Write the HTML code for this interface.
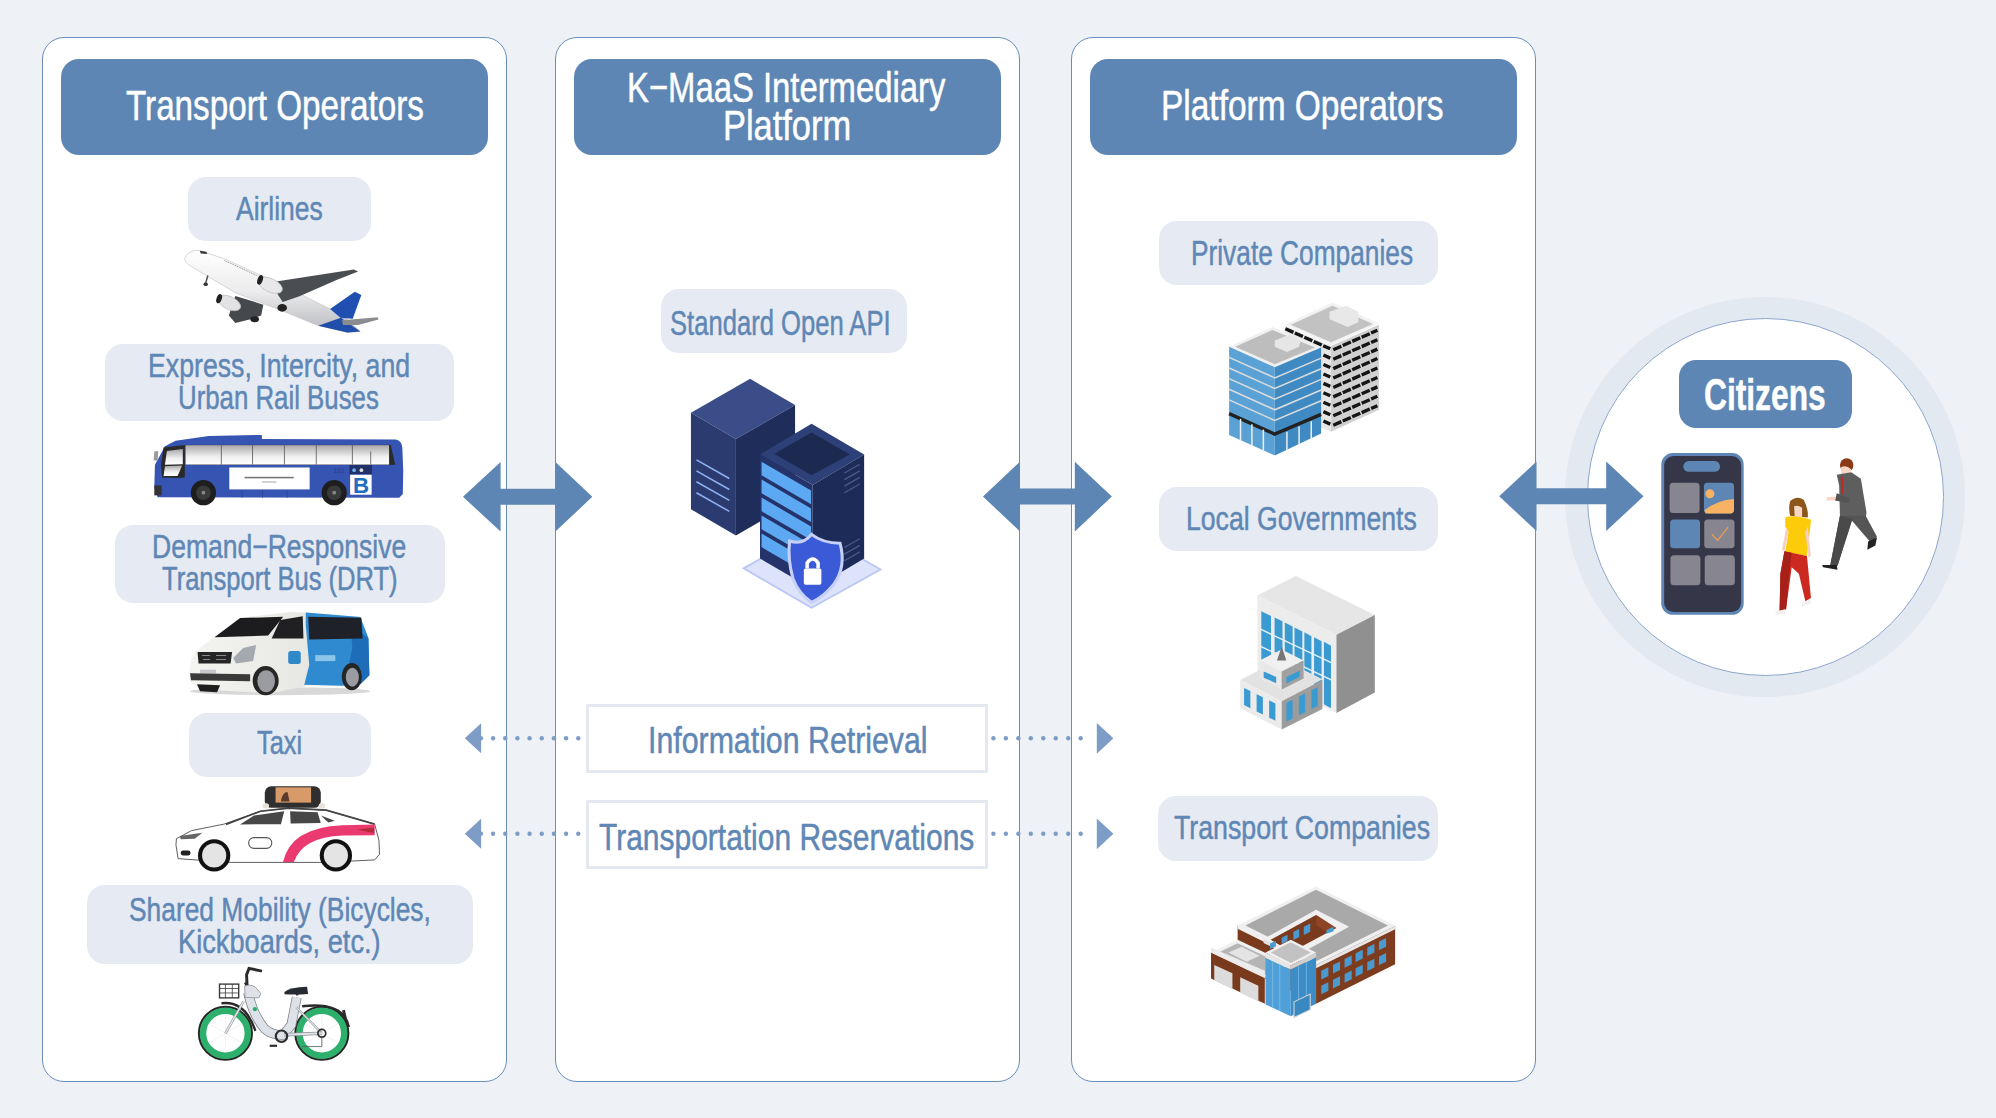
<!DOCTYPE html>
<html><head><meta charset="utf-8"><style>
html,body{margin:0;padding:0;}
body{width:1996px;height:1118px;background:#eef1f6;position:relative;overflow:hidden;font-family:"Liberation Sans",sans-serif;}
.t{position:absolute;white-space:nowrap;transform-origin:0 0;-webkit-text-stroke:0.5px currentColor;}
svg{position:absolute;left:0;top:0;}
</style></head><body>
<div style="position:absolute;left:42px;top:37px;width:465px;height:1045px;box-sizing:border-box;background:#fff;border:1px solid #6a8ebb;border-radius:22px"></div>
<div style="position:absolute;left:555px;top:37px;width:465px;height:1045px;box-sizing:border-box;background:#fff;border:1px solid #6a8ebb;border-radius:22px"></div>
<div style="position:absolute;left:1071px;top:37px;width:465px;height:1045px;box-sizing:border-box;background:#fff;border:1px solid #6a8ebb;border-radius:22px"></div>
<div style="position:absolute;left:61.3px;top:59.4px;width:427px;height:95.7px;background:#5d86b4;border-radius:18px"></div>
<div style="position:absolute;left:573.8px;top:59.4px;width:427px;height:95.7px;background:#5d86b4;border-radius:18px"></div>
<div style="position:absolute;left:1089.8px;top:59.4px;width:427px;height:95.7px;background:#5d86b4;border-radius:18px"></div>
<div style="position:absolute;left:188px;top:177px;width:183px;height:64px;background:#e6ebf3;border-radius:18px"></div>
<div style="position:absolute;left:105px;top:344px;width:349px;height:77px;background:#e6ebf3;border-radius:18px"></div>
<div style="position:absolute;left:115px;top:525px;width:330px;height:78px;background:#e6ebf3;border-radius:18px"></div>
<div style="position:absolute;left:189px;top:713px;width:182px;height:64px;background:#e6ebf3;border-radius:18px"></div>
<div style="position:absolute;left:87px;top:885px;width:386px;height:79px;background:#e6ebf3;border-radius:18px"></div>
<div style="position:absolute;left:661px;top:289px;width:246px;height:64px;background:#e6ebf3;border-radius:18px"></div>
<div style="position:absolute;left:1159px;top:221px;width:279px;height:64px;background:#e6ebf3;border-radius:18px"></div>
<div style="position:absolute;left:1159px;top:487px;width:279px;height:64px;background:#e6ebf3;border-radius:18px"></div>
<div style="position:absolute;left:1158px;top:796px;width:280px;height:65px;background:#e6ebf3;border-radius:18px"></div>
<div style="position:absolute;left:586px;top:704px;width:402px;height:69px;box-sizing:border-box;border:3px solid #e3e8f1;background:#fff"></div>
<div style="position:absolute;left:586px;top:800px;width:402px;height:69px;box-sizing:border-box;border:3px solid #e3e8f1;background:#fff"></div>
<div style="position:absolute;left:1564.7px;top:296.6px;width:400.6px;height:400.6px;border-radius:50%;background:#e3e9f1"></div>
<div style="position:absolute;left:1586.5px;top:318.3px;width:357.4px;height:357.4px;box-sizing:border-box;border-radius:50%;background:#fff;border:1px solid #8ea6cc"></div>
<div style="position:absolute;left:1679.4px;top:359.7px;width:172.4px;height:68.6px;background:#5d86b4;border-radius:17px"></div>
<svg width="1996" height="1118" viewBox="0 0 1996 1118">
<g transform="translate(175,240) scale(0.10771)">
<defs><linearGradient id="fus" x1="0" y1="0" x2="0" y2="1"><stop offset="0" stop-color="#ffffff"/><stop offset="0.5" stop-color="#ececee"/><stop offset="1" stop-color="#b8b9bd"/></linearGradient></defs>
<path d="M560,520 L820,600 L800,700 L720,730 L560,770 L500,700 Z" fill="#45484d"/>
<path d="M90,170 Q120,95 220,95 L460,175 L1000,420 L1560,700 L1720,850 L1600,858 L1330,795 L1000,660 L560,490 L150,245 Q90,210 90,170 Z" fill="url(#fus)" stroke="#c4c4c8" stroke-width="6"/>
<path d="M1330,795 L1540,722 L1720,850 L1600,858 Z" fill="#1f4fa8"/>
<path d="M940,385 L1660,275 L1700,292 L1500,372 L1150,525 L1000,575 L930,470 Z" fill="#4a4d52"/>
<path d="M1440,640 L1670,480 L1730,510 L1650,730 L1540,725 Z" fill="#1f4fb0"/>
<path d="M1550,745 L1880,718 L1890,738 L1700,790 L1560,790 Z" fill="#8a8c90"/>
<ellipse cx="885" cy="420" rx="120" ry="62" transform="rotate(25 885 420)" fill="#e8e8ea" stroke="#b8b8bc" stroke-width="6"/>
<ellipse cx="790" cy="370" rx="24" ry="46" transform="rotate(20 790 370)" fill="#222"/>
<ellipse cx="505" cy="585" rx="112" ry="60" transform="rotate(25 505 585)" fill="#e2e2e4" stroke="#b8b8bc" stroke-width="6"/>
<ellipse cx="410" cy="545" rx="24" ry="44" transform="rotate(20 410 545)" fill="#222"/>
<ellipse cx="995" cy="630" rx="45" ry="35" fill="#222"/>
<ellipse cx="740" cy="735" rx="40" ry="28" fill="#222"/>
<ellipse cx="285" cy="410" rx="20" ry="18" fill="#333"/>
<path d="M305,330 L285,400" stroke="#555" stroke-width="14"/>
<path d="M230,100 L290,110 L300,130 L240,125 Z" fill="#333"/>
<path d="M460,190 L760,330" stroke="#7a7a80" stroke-width="8" stroke-dasharray="10 8"/>
</g><g transform="translate(145,425) scale(0.13277)">
<defs><linearGradient id="bwin" x1="0" y1="0" x2="0" y2="1"><stop offset="0" stop-color="#a8a8aa"/><stop offset="0.6" stop-color="#f0f0f0"/><stop offset="1" stop-color="#ffffff"/></linearGradient></defs>
<path d="M95,545 L70,470 L75,300 L150,160 L230,118 L480,82 L880,75 L880,105 L1890,110 Q1935,120 1938,170 L1945,340 L1942,520 L1915,548 Z" fill="#3654b2"/>
<path d="M140,170 L300,150 L300,395 L240,400 L130,395 L120,300 Z" fill="#2a2a2a"/>
<path d="M165,195 L285,180 L285,295 L150,300 Z" fill="url(#bwin)"/>
<path d="M150,310 L280,305 L245,385 L140,385 Z" fill="url(#bwin)"/>
<path d="M70,200 L100,195 L95,270 L65,265 Z" fill="#9a9a9a"/>
<rect x="300" y="150" width="1550" height="150" fill="#2a2a2a"/>
<rect x="305" y="152" width="1535" height="146" fill="url(#bwin)"/>
<g stroke="#555" stroke-width="6"><path d="M575,152 V298"/><path d="M810,152 V298"/><path d="M1050,152 V298"/><path d="M1290,152 V298"/><path d="M1562,152 V298"/><path d="M1700,200 V298"/></g>
<path d="M1840,150 L1850,150 L1885,300 L1840,300 Z" fill="#2a2a2a"/>
<rect x="635" y="320" width="605" height="165" fill="#fff"/>
<rect x="750" y="390" width="370" height="12" fill="#777"/>
<rect x="880" y="425" width="110" height="8" fill="#aaa"/>
<text x="1420" y="362" font-family="Liberation Sans" font-size="50" fill="#2a3f8a">161</text>
<rect x="1540" y="302" width="170" height="68" fill="#22306a"/>
<circle cx="1575" cy="340" r="14" fill="#6ab0e8"/><circle cx="1630" cy="340" r="14" fill="#ddd"/>
<rect x="1545" y="375" width="162" height="150" fill="#fff"/>
<text x="1566" y="512" font-family="Liberation Sans" font-weight="bold" font-size="168" fill="#1f6fc0">B</text>
<rect x="70" y="455" width="55" height="75" fill="#333"/>
<g stroke="#2a3f8a" stroke-width="5"><path d="M730,490 V548"/><path d="M885,490 V548"/><path d="M1070,490 V548"/></g>
<circle cx="440" cy="510" r="95" fill="#1e1e1e"/><circle cx="440" cy="510" r="55" fill="#3a3a3a"/><circle cx="440" cy="510" r="14" fill="#888"/>
<circle cx="1425" cy="510" r="95" fill="#1e1e1e"/><circle cx="1425" cy="510" r="55" fill="#3a3a3a"/><circle cx="1425" cy="510" r="14" fill="#888"/>
</g><g transform="translate(180,605) scale(0.10020)">
<defs><linearGradient id="vwh" x1="0" y1="0" x2="1" y2="0"><stop offset="0" stop-color="#f4f4f0"/><stop offset="1" stop-color="#e0e1dd"/></linearGradient></defs>
<ellipse cx="1000" cy="860" rx="900" ry="40" fill="#d8d8d8"/>
<path d="M90,700 L110,540 L170,450 L340,320 L600,130 L1100,70 L1260,75 L1800,120 L1880,330 L1890,700 L1800,790 L1620,805 L1300,800 L960,870 L700,870 L200,840 L100,770 Z" fill="url(#vwh)"/>
<path d="M1255,75 L1800,120 L1880,330 L1890,700 L1800,790 L1620,805 L1240,795 L1290,600 L1255,200 Z" fill="#2f8ad0"/>
<path d="M1700,200 L1880,330 L1890,700 L1800,790 L1650,780 L1720,420 Z" fill="#1d6db8"/>
<path d="M345,322 L600,130 L1030,118 L880,305 Z" fill="#1c1c1e"/>
<path d="M915,335 L1000,150 L1225,112 L1232,335 Z" fill="#202022"/>
<path d="M1280,118 L1810,128 L1822,335 L1290,345 Z" fill="#1e2228"/>
<path d="M175,470 L520,470 L505,585 L185,585 Z" fill="#262626"/>
<path d="M220,505 L300,505 M230,545 L300,545 M360,505 L460,505 M360,545 L460,545" stroke="#888" stroke-width="10"/>
<path d="M530,530 L630,430 L760,400 L730,560 L560,585 Z" fill="#a4a9b0"/>
<rect x="200" y="645" width="160" height="40" fill="#c8c8cc"/>
<path d="M100,680 L700,690 L700,760 L110,750 Z" fill="#3a3a3a"/>
<rect x="1080" y="460" width="125" height="130" rx="25" fill="#2f88c8"/>
<path d="M1350,500 L1550,500 L1550,560 L1350,560 Z" fill="#8cc4ea"/>
<ellipse cx="855" cy="755" rx="130" ry="145" fill="#262626"/><ellipse cx="860" cy="760" rx="88" ry="110" fill="#9a9ca2"/>
<ellipse cx="1715" cy="715" rx="100" ry="135" fill="#262626"/><ellipse cx="1720" cy="720" rx="65" ry="95" fill="#9a9ca2"/>
<path d="M170,790 L400,800 L370,870 L200,860 Z" fill="#1e1e1e"/>
</g><g transform="translate(170,780) scale(0.10771)">
<path d="M60,545 L200,470 L500,410 L840,290 L1100,262 L1450,280 L1900,410 L1940,560 L1945,690 L1900,742 L1700,752 L1390,765 L560,765 L280,745 L75,730 L55,600 Z" fill="#fff" stroke="#5a5a5a" stroke-width="9"/>
<path d="M520,412 L840,290 L1100,262 L1450,280 L1900,410" fill="none" stroke="#444" stroke-width="16"/>
<path d="M650,412 L780,330 L1060,290 L1030,410 Z" fill="#474747"/>
<path d="M1115,290 L1370,300 L1400,400 L1120,405 Z" fill="#474747"/>
<path d="M1400,330 L1530,378 L1470,395 Z" fill="#474747"/>
<path d="M1050,762 Q1120,440 1600,420 L1900,412 L1900,512 L1600,515 Q1230,530 1150,762 Z" fill="#ea3a70"/>
<path d="M1740,460 L1895,440 L1895,495 Z" fill="#b52a3a"/>
<rect x="880" y="58" width="520" height="200" rx="60" fill="#2f2f2f"/>
<rect x="980" y="68" width="330" height="142" fill="#d79a68"/>
<path d="M1030,200 Q1040,120 1090,110 L1110,200 Z" fill="#5a3a2a"/>
<rect x="860" y="215" width="60" height="50" rx="25" fill="#e8e2d8"/>
<rect x="1380" y="215" width="60" height="50" rx="25" fill="#e8e2d8"/>
<path d="M90,520 L300,490 L230,545 L100,550 Z" fill="#666"/>
<rect x="730" y="535" width="215" height="100" rx="50" fill="none" stroke="#555" stroke-width="10"/>
<circle cx="410" cy="700" r="150" fill="#111"/><circle cx="410" cy="700" r="112" fill="#e4e4e4"/>
<circle cx="1540" cy="700" r="150" fill="#111"/><circle cx="1540" cy="700" r="112" fill="#e4e4e4"/>
<rect x="100" y="655" width="90" height="45" rx="20" fill="#222"/>
</g><g transform="translate(190,960) scale(0.09838)">
<g fill="none">
<circle cx="360" cy="745" r="268" stroke="#262626" stroke-width="24"/>
<circle cx="360" cy="745" r="228" stroke="#2db06c" stroke-width="66"/>
<circle cx="1340" cy="745" r="268" stroke="#262626" stroke-width="24"/>
<circle cx="1340" cy="745" r="228" stroke="#2db06c" stroke-width="66"/>
<g stroke="#c8c8c8" stroke-width="2.5"><path d="M360,745 L360,550 M360,745 L520,650 M360,745 L520,840 M360,745 L360,940 M360,745 L200,840 M360,745 L200,650"/><path d="M1340,745 L1340,550 M1340,745 L1500,650 M1340,745 L1500,840 M1340,745 L1340,940 M1340,745 L1180,840 M1340,745 L1180,650"/></g>
<path d="M320,440 Q560,410 665,720" stroke="#2a2a2a" stroke-width="24"/>
<path d="M1140,470 Q1560,420 1615,680" stroke="#2a2a2a" stroke-width="24"/>
<path d="M1560,510 L1580,600" stroke="#2a2a2a" stroke-width="30"/>
<path d="M545,420 L360,745" stroke="#8c9096" stroke-width="26"/>
<path d="M545,420 L360,745" stroke="#dfe2e8" stroke-width="16"/>
<path d="M590,330 Q640,560 760,700 Q840,770 950,760 L1030,660 L1085,380" stroke="#7e838a" stroke-width="100" stroke-linejoin="round"/>
<path d="M590,330 Q640,560 760,700 Q840,770 950,760 L1030,660 L1085,380" stroke="#dde1e8" stroke-width="84" stroke-linejoin="round"/>
<path d="M1080,480 L1340,745" stroke="#8c9096" stroke-width="22"/><path d="M1080,480 L1340,745" stroke="#dfe2e8" stroke-width="12"/>
<path d="M960,760 L1340,745" stroke="#8c9096" stroke-width="34"/><path d="M960,760 L1340,745" stroke="#dfe2e8" stroke-width="22"/>
<path d="M1090,360 L1085,300" stroke="#2a2a2a" stroke-width="26"/>
<path d="M580,260 L575,150 L600,85 L720,110" stroke="#2a2a2a" stroke-width="30" stroke-linecap="round"/>
<path d="M560,230 L600,300" stroke="#2a2a2a" stroke-width="24"/>
<rect x="300" y="245" width="195" height="140" stroke="#3a3a3a" stroke-width="14"/>
<path d="M300,290 L495,290 M300,335 L495,335 M360,245 L360,385 M430,245 L430,385" stroke="#3a3a3a" stroke-width="8"/>
<circle cx="930" cy="775" r="58" stroke="#2e2e2e" stroke-width="22"/>
<circle cx="1340" cy="745" r="40" stroke="#2e2e2e" stroke-width="18"/>
<path d="M810,872 L885,872" stroke="#2e2e2e" stroke-width="22"/>
<path d="M1340,780 L1340,880 L1140,880" stroke="#555" stroke-width="8"/>
</g>
<path d="M960,325 Q1020,275 1190,272 L1200,345 Q1080,355 960,348 Z" fill="#262b33"/>
<path d="M555,265 Q600,240 660,270 L720,340 L700,385 L560,380 Z" fill="#dfe2e8" stroke="#8c9096" stroke-width="8"/>
<circle cx="660" cy="500" r="22" fill="#2db06c"/>
</g><g transform="translate(680,370) scale(0.21920)">
<path d="M290,905 L600,730 L915,910 L600,1085 Z" fill="#dde3fb" stroke="#b9c6f5" stroke-width="8"/>
<path d="M50,195 L320,40 L525,160 L255,315 Z" fill="#3b4d88"/>
<path d="M50,195 L255,315 L255,755 L50,635 Z" fill="#2b3b70"/>
<path d="M255,315 L525,160 L525,600 L255,755 Z" fill="#1f2d5a"/>
<g stroke="#8fb0f0" stroke-width="7" fill="none">
<path d="M75,410 L225,495"/><path d="M75,460 L225,545"/><path d="M75,510 L225,595"/><path d="M75,560 L225,645"/>
</g>
<path d="M365,385 L600,245 L840,385 L605,525 Z" fill="#2e4078"/>
<path d="M430,382 L600,285 L775,385 L600,480 Z" fill="#1c2950"/>
<path d="M365,385 L605,525 L605,1000 L365,860 Z" fill="#24336a"/>
<path d="M605,525 L840,385 L840,860 L605,1000 Z" fill="#1d2b58"/>
<g fill="#5da8f2">
<path d="M372,418 L598,550 L598,612 L372,480 Z"/>
<path d="M372,500 L598,632 L598,694 L372,562 Z"/>
<path d="M372,582 L598,714 L598,776 L372,644 Z"/>
<path d="M372,664 L598,796 L598,858 L372,726 Z"/>
<path d="M372,746 L598,878 L598,940 L372,808 Z"/>
</g>
<g stroke="#4a5a8a" stroke-width="6" fill="none"><path d="M750,470 L820,430"/><path d="M750,500 L820,460"/><path d="M750,530 L820,490"/><path d="M750,560 L820,520"/><path d="M750,810 L820,770"/><path d="M750,840 L820,800"/><path d="M750,870 L820,830"/></g>
<path d="M500,780 Q560,800 600,750 Q650,790 730,790 Q760,900 700,980 Q650,1040 600,1060 Q540,1020 515,950 Q490,860 500,780 Z" fill="#3a5ad8" stroke="#c6d0f8" stroke-width="14"/>
<rect x="565" y="905" width="80" height="75" rx="8" fill="#fff"/>
<path d="M580,905 L580,880 Q605,845 630,880 L630,905" fill="none" stroke="#fff" stroke-width="16"/>
</g><g transform="translate(1220,295) scale(0.15207)">
<path d="M425,195 L740,50 L1045,185 L730,330 Z" fill="#f2f2f2"/>
<path d="M465,195 L740,70 L1005,190 L730,310 Z" fill="#c2c2c2"/>
<path d="M720,110 L830,70 L910,110 L910,180 L840,210 L720,160 Z" fill="#e8e8e8"/>
<path d="M425,200 L730,335 L730,900 L425,765 Z" fill="#e6e6e6"/>
<path d="M730,335 L1045,195 L1045,755 L730,900 Z" fill="#d0d0d0"/>
<g stroke="#151515" stroke-width="22" fill="none" stroke-dasharray="58 10">
<path d="M745,360 L1035,232"/><path d="M745,422 L1035,294"/><path d="M745,484 L1035,356"/><path d="M745,546 L1035,418"/><path d="M745,608 L1035,480"/><path d="M745,670 L1035,542"/><path d="M745,732 L1035,604"/><path d="M745,794 L1035,666"/><path d="M745,856 L1035,728"/>
<path d="M430,222 L725,354"/><path d="M680,395 L725,415"/><path d="M680,457 L725,477"/><path d="M680,519 L725,539"/><path d="M680,581 L725,601"/><path d="M680,643 L725,663"/><path d="M680,705 L725,725"/><path d="M680,767 L725,787"/><path d="M680,829 L725,849"/>
</g>
<path d="M60,340 L345,210 L665,345 L360,475 Z" fill="#f0f0f0"/>
<path d="M100,340 L345,230 L625,345 L360,455 Z" fill="#bdbdbd"/>
<path d="M360,300 L460,260 L530,300 L520,340 L440,375 L360,340 Z" fill="#e6e6e6"/>
<path d="M60,340 L360,475 L360,1055 L60,920 Z" fill="#5aa2d6"/>
<path d="M360,475 L665,345 L665,910 L360,1055 Z" fill="#3f8ac2"/>
<g stroke="#dcdcdc" stroke-width="10" fill="none">
<path d="M60,410 L360,545 L665,415"/><path d="M60,480 L360,615 L665,485"/><path d="M60,550 L360,685 L665,555"/><path d="M60,620 L360,755 L665,625"/><path d="M60,690 L360,825 L665,695"/>
</g>
<path d="M60,780 L360,915 L665,785" fill="none" stroke="#222" stroke-width="22"/>
<g stroke="#eee" stroke-width="10" fill="none"><path d="M135,815 L135,960"/><path d="M210,850 L210,995"/><path d="M285,885 L285,1030"/><path d="M440,900 L440,1020"/><path d="M520,865 L520,985"/><path d="M600,830 L600,950"/></g>
</g><g transform="translate(1230,565) scale(0.15656)">
<path d="M175,195 L420,70 L925,320 L680,445 Z" fill="#e6e6e6"/>
<path d="M175,195 L680,445 L680,945 L175,700 Z" fill="#ececec"/>
<path d="M680,445 L925,320 L925,815 L680,945 Z" fill="#909090"/>
<g fill="#3a9ad2">
<path d="M200,295 L262,325 L262,640 L200,610 Z"/><path d="M285,335 L335,360 L335,675 L285,650 Z"/><path d="M350,368 L400,393 L400,708 L350,683 Z"/><path d="M412,400 L462,425 L462,740 L412,715 Z"/><path d="M475,430 L520,455 L520,770 L475,745 Z"/><path d="M537,462 L585,487 L585,802 L537,777 Z"/><path d="M600,490 L645,515 L645,915 L600,890 Z"/>
</g>
<g stroke="#e8f0f6" stroke-width="9" fill="none"><path d="M195,410 L650,625"/><path d="M195,520 L650,735"/></g>
<path d="M65,735 L330,600 L590,730 L330,870 Z" fill="#e2e2e2"/>
<path d="M65,735 L330,870 L330,1050 L65,915 Z" fill="#ebebeb"/>
<path d="M330,870 L590,735 L590,920 L330,1050 Z" fill="#9c9c9c"/>
<path d="M190,610 L330,540 L470,610 L330,680 Z" fill="#f0f0f0"/>
<path d="M190,610 L330,680 L330,795 L190,725 Z" fill="#e8e8e8"/>
<path d="M330,680 L470,610 L470,725 L330,795 Z" fill="#a0a0a0"/>
<path d="M300,610 L330,520 L360,610 Z" fill="#777"/>
<g fill="#3a9ad2">
<path d="M215,680 L295,715 L295,755 L215,720 Z"/><path d="M360,715 L445,675 L445,715 L360,755 Z"/>
<path d="M90,785 L130,805 L130,915 L90,895 Z"/><path d="M170,825 L210,845 L210,955 L170,935 Z"/><path d="M250,865 L290,885 L290,995 L250,975 Z"/>
<path d="M360,880 L400,860 L400,980 L360,1000 Z"/><path d="M440,840 L480,820 L480,940 L440,960 Z"/><path d="M520,800 L560,780 L560,900 L520,920 Z"/>
</g>
</g><g transform="translate(1200,880) scale(0.12967)">
<path d="M290,350 L895,50 L1505,350 L900,655 Z" fill="#f0f0f0"/>
<path d="M350,350 L895,75 L1450,350 L900,625 Z" fill="#a9a9a9"/>
<path d="M290,350 L895,655 L895,955 L290,650 Z" fill="#7a3a1e"/>
<path d="M290,345 L900,650 L900,680 L290,375 Z" fill="#f0f0f0"/>
<path d="M490,455 L895,230 L1150,360 L750,580 Z" fill="#f0f0f0"/>
<path d="M545,460 L895,270 L1050,370 L705,555 Z" fill="#7a3a1e"/>
<path d="M895,270 L1050,370 L980,405 L895,345 Z" fill="#8e4526"/>
<path d="M490,455 L750,580 L750,610 L490,485 Z" fill="#e0e0e0"/>
<path d="M895,655 L1505,355 L1505,650 L895,955 Z" fill="#7e3c1f"/>
<path d="M1505,355 L1505,380 L895,680 L895,655 Z" fill="#e8e8e8"/>
<g fill="#4a9ad0">
<path d="M935,700 L990,673 L990,740 L935,767 Z"/><path d="M1025,655 L1080,628 L1080,695 L1025,722 Z"/><path d="M1115,610 L1170,583 L1170,650 L1115,677 Z"/><path d="M1200,565 L1255,538 L1255,605 L1200,632 Z"/><path d="M1290,520 L1345,493 L1345,560 L1290,587 Z"/><path d="M1380,475 L1435,448 L1435,515 L1380,542 Z"/>
<path d="M935,815 L990,788 L990,855 L935,882 Z"/><path d="M1025,770 L1080,743 L1080,810 L1025,837 Z"/><path d="M1115,725 L1170,698 L1170,765 L1115,792 Z"/><path d="M1200,680 L1255,653 L1255,720 L1200,747 Z"/><path d="M1290,635 L1345,608 L1345,675 L1290,702 Z"/><path d="M1380,590 L1435,563 L1435,630 L1380,657 Z"/>
<path d="M800,360 L850,335 L850,400 L800,425 Z"/><path d="M720,400 L765,378 L765,440 L720,462 Z"/><path d="M630,445 L675,423 L675,470 L630,492 Z"/><path d="M540,490 L585,468 L585,510 L540,532 Z"/>
<path d="M975,385 L1030,360 L1030,395 L975,415 Z"/>
</g>
<path d="M85,560 L290,460 L700,655 L500,755 Z" fill="#f0f0f0"/>
<path d="M140,562 L290,488 L650,657 L500,728 Z" fill="#b5b5b5"/>
<path d="M220,560 L320,515 L460,585 L360,630 Z" fill="#e4e4e4"/>
<path d="M85,560 L500,755 L500,955 L85,760 Z" fill="#7a3a1e"/>
<path d="M85,560 L500,755 L500,700 L85,520 Z" fill="#ececec"/>
<path d="M110,655 L250,720 L250,840 L110,775 Z" fill="#dcdcdc"/><path d="M310,750 L450,815 L450,935 L310,870 Z" fill="#dcdcdc"/>
<path d="M505,560 L700,460 L895,560 L700,660 Z" fill="#f0f0f0"/>
<path d="M545,560 L700,480 L855,560 L700,640 Z" fill="#c2c2c2"/>
<path d="M505,600 L700,690 L700,1050 L505,960 Z" fill="#4fa0d8"/>
<path d="M700,690 L895,595 L895,955 L700,1050 Z" fill="#3c8cc7"/>
<path d="M505,560 L700,660 L700,690 L505,600 Z" fill="#e6e6e6"/><path d="M700,660 L895,560 L895,595 L700,690 Z" fill="#cfcfcf"/>
<g stroke="#8cc6ec" stroke-width="5" fill="none"><path d="M560,630 V985"/><path d="M615,655 V1010"/><path d="M760,665 V1020"/><path d="M820,635 V990"/></g>
<path d="M725,940 L850,880 L850,1000 L725,1060 Z" fill="#3a88c0" stroke="#d8d8d8" stroke-width="8"/>
</g><g transform="translate(1650,445) scale(0.16097)">
<rect x="70" y="50" width="512" height="1005" rx="72" fill="#5d86b4"/>
<rect x="88" y="68" width="478" height="970" rx="58" fill="#363649"/>
<rect x="207" y="100" width="228" height="66" rx="33" fill="#5d86b4"/>
<rect x="122" y="235" width="186" height="187" rx="22" fill="#878690"/>
<rect x="335" y="235" width="187" height="190" rx="22" fill="#5d86b4"/>
<circle cx="372" cy="303" r="28" fill="#f8b263"/>
<path d="M338,405 Q420,340 522,335 L522,400 Q522,425 500,425 L345,425 Z" fill="#f8b263"/>
<rect x="125" y="463" width="186" height="179" rx="22" fill="#5d86b4"/>
<rect x="337" y="463" width="188" height="179" rx="22" fill="#878690"/>
<path d="M385,555 L420,592 L485,510" fill="none" stroke="#f0a050" stroke-width="7"/>
<rect x="127" y="685" width="186" height="187" rx="22" fill="#878690"/>
<rect x="340" y="685" width="187" height="187" rx="22" fill="#878690"/>
<!-- woman -->
<path d="M870,350 Q910,310 955,340 Q985,400 980,450 L870,440 Q860,390 870,350 Z" fill="#8b5618"/>
<path d="M895,380 Q920,370 945,390 L945,450 L900,455 Z" fill="#f6d6c4"/>
<path d="M840,450 Q900,430 1000,465 L995,520 L975,690 L840,665 L860,540 L840,505 Z" fill="#fccb0a"/>
<path d="M980,505 L1000,690 L985,700 L965,540 Z" fill="#f6d0c0"/>
<path d="M845,520 L820,650 L835,660 L860,540 Z" fill="#f6d0c0"/>
<path d="M835,660 L975,690 L1000,950 L965,970 L925,800 L880,760 L845,1020 L805,1030 L810,800 Z" fill="#cc2a20"/>
<path d="M835,660 L880,670 L870,760 L845,1020 L805,1030 L810,800 Z" fill="#a8201a"/>
<path d="M780,1035 L840,1020 L840,1050 L780,1055 Z" fill="#f0f0f0"/>
<path d="M940,985 L1000,955 L995,990 L945,1000 Z" fill="#f0f0f0"/>
<!-- man -->
<circle cx="1222" cy="125" r="42" fill="#8a3a14"/>
<path d="M1185,140 Q1215,120 1250,150 L1240,190 L1190,195 Z" fill="#f6d6c4"/>
<path d="M1160,185 L1250,170 L1310,210 L1345,420 L1340,450 L1250,460 L1180,440 L1175,250 Z" fill="#5e5e5e"/>
<path d="M1185,200 L1200,200 L1200,310 L1188,300 Z" fill="#c0282a"/>
<path d="M1150,320 L1100,325 L1095,345 L1155,345 Z" fill="#f6d6c4"/>
<path d="M1160,300 L1240,330 L1230,360 L1150,345 Z" fill="#555"/>
<path d="M1180,440 L1340,440 L1410,570 L1375,610 L1255,470 L1165,750 L1120,745 Z" fill="#555"/>
<path d="M1180,440 L1255,460 L1165,750 L1120,745 Z" fill="#4a4a4a"/>
<path d="M1070,745 L1160,745 L1165,775 L1075,760 Z" fill="#222"/>
<path d="M1355,600 L1410,575 L1400,625 L1350,650 Z" fill="#222"/>
</g>
<polygon points="463,496.8 500.6,462.0 500.6,488.8 555.4,488.8 555.4,462.0 592.3,496.8 555.4,531.6 555.4,504.8 500.6,504.8 500.6,531.6" fill="#5d86b4"/>
<polygon points="983,496.6 1019.9,461.8 1019.9,488.6 1074.8,488.6 1074.8,461.8 1111.9,496.6 1074.8,531.4 1074.8,504.6 1019.9,504.6 1019.9,531.4" fill="#5d86b4"/>
<polygon points="1499.2,496.3 1536.5,461.5 1536.5,488.3 1606.2,488.3 1606.2,461.5 1643.5,496.3 1606.2,531.1 1606.2,504.3 1536.5,504.3 1536.5,531.1" fill="#5d86b4"/>
<circle cx="480.90" cy="738.3" r="2.2" fill="#7d9cc6"/>
<circle cx="493.07" cy="738.3" r="2.2" fill="#7d9cc6"/>
<circle cx="505.24" cy="738.3" r="2.2" fill="#7d9cc6"/>
<circle cx="517.41" cy="738.3" r="2.2" fill="#7d9cc6"/>
<circle cx="529.58" cy="738.3" r="2.2" fill="#7d9cc6"/>
<circle cx="541.75" cy="738.3" r="2.2" fill="#7d9cc6"/>
<circle cx="553.92" cy="738.3" r="2.2" fill="#7d9cc6"/>
<circle cx="566.09" cy="738.3" r="2.2" fill="#7d9cc6"/>
<circle cx="578.26" cy="738.3" r="2.2" fill="#7d9cc6"/>
<circle cx="993.40" cy="738.3" r="2.2" fill="#7d9cc6"/>
<circle cx="1005.87" cy="738.3" r="2.2" fill="#7d9cc6"/>
<circle cx="1018.34" cy="738.3" r="2.2" fill="#7d9cc6"/>
<circle cx="1030.81" cy="738.3" r="2.2" fill="#7d9cc6"/>
<circle cx="1043.28" cy="738.3" r="2.2" fill="#7d9cc6"/>
<circle cx="1055.75" cy="738.3" r="2.2" fill="#7d9cc6"/>
<circle cx="1068.22" cy="738.3" r="2.2" fill="#7d9cc6"/>
<circle cx="1080.69" cy="738.3" r="2.2" fill="#7d9cc6"/>
<polygon points="464.8,738.3 481.1,723.3 481.1,753.3" fill="#7d9cc6"/>
<polygon points="1113.4,738.3 1096.8,722.9 1096.8,753.6999999999999" fill="#7d9cc6"/>
<circle cx="480.90" cy="833.8" r="2.2" fill="#7d9cc6"/>
<circle cx="493.07" cy="833.8" r="2.2" fill="#7d9cc6"/>
<circle cx="505.24" cy="833.8" r="2.2" fill="#7d9cc6"/>
<circle cx="517.41" cy="833.8" r="2.2" fill="#7d9cc6"/>
<circle cx="529.58" cy="833.8" r="2.2" fill="#7d9cc6"/>
<circle cx="541.75" cy="833.8" r="2.2" fill="#7d9cc6"/>
<circle cx="553.92" cy="833.8" r="2.2" fill="#7d9cc6"/>
<circle cx="566.09" cy="833.8" r="2.2" fill="#7d9cc6"/>
<circle cx="578.26" cy="833.8" r="2.2" fill="#7d9cc6"/>
<circle cx="993.40" cy="833.8" r="2.2" fill="#7d9cc6"/>
<circle cx="1005.87" cy="833.8" r="2.2" fill="#7d9cc6"/>
<circle cx="1018.34" cy="833.8" r="2.2" fill="#7d9cc6"/>
<circle cx="1030.81" cy="833.8" r="2.2" fill="#7d9cc6"/>
<circle cx="1043.28" cy="833.8" r="2.2" fill="#7d9cc6"/>
<circle cx="1055.75" cy="833.8" r="2.2" fill="#7d9cc6"/>
<circle cx="1068.22" cy="833.8" r="2.2" fill="#7d9cc6"/>
<circle cx="1080.69" cy="833.8" r="2.2" fill="#7d9cc6"/>
<polygon points="464.8,833.8 481.1,818.8 481.1,848.8" fill="#7d9cc6"/>
<polygon points="1113.4,833.8 1096.8,818.4 1096.8,849.1999999999999" fill="#7d9cc6"/>
</svg>

<div class="t" style="left:125.60px;top:83.68px;font-size:42.84px;line-height:42.84px;color:#fff;font-weight:normal;transform:scaleX(0.7760)">Transport Operators</div>
<div class="t" style="left:626.70px;top:66.08px;font-size:42.84px;line-height:42.84px;color:#fff;font-weight:normal;transform:scaleX(0.7664)">K−MaaS Intermediary</div>
<div class="t" style="left:722.62px;top:104.39px;font-size:43.42px;line-height:43.42px;color:#fff;font-weight:normal;transform:scaleX(0.7926)">Platform</div>
<div class="t" style="left:1161.11px;top:85.18px;font-size:42.01px;line-height:42.01px;color:#fff;font-weight:normal;transform:scaleX(0.7965)">Platform Operators</div>
<div class="t" style="left:236.00px;top:191.03px;font-size:34.10px;line-height:34.10px;color:#5f87b5;font-weight:normal;transform:scaleX(0.7769)">Airlines</div>
<div class="t" style="left:148.43px;top:347.83px;font-size:34.10px;line-height:34.10px;color:#5f87b5;font-weight:normal;transform:scaleX(0.7833)">Express, Intercity, and</div>
<div class="t" style="left:178.16px;top:380.94px;font-size:33.43px;line-height:33.43px;color:#5f87b5;font-weight:normal;transform:scaleX(0.7721)">Urban Rail Buses</div>
<div class="t" style="left:152.22px;top:530.07px;font-size:33.52px;line-height:33.52px;color:#5f87b5;font-weight:normal;transform:scaleX(0.7910)">Demand−Responsive</div>
<div class="t" style="left:161.90px;top:562.52px;font-size:32.93px;line-height:32.93px;color:#5f87b5;font-weight:normal;transform:scaleX(0.7759)">Transport Bus (DRT)</div>
<div class="t" style="left:257.00px;top:726.47px;font-size:33.52px;line-height:33.52px;color:#5f87b5;font-weight:normal;transform:scaleX(0.7569)">Taxi</div>
<div class="t" style="left:128.91px;top:892.75px;font-size:33.33px;line-height:33.33px;color:#5f87b5;font-weight:normal;transform:scaleX(0.7912)">Shared Mobility (Bicycles,</div>
<div class="t" style="left:177.79px;top:925.03px;font-size:33.81px;line-height:33.81px;color:#5f87b5;font-weight:normal;transform:scaleX(0.8050)">Kickboards, etc.)</div>
<div class="t" style="left:670.36px;top:306.14px;font-size:34.62px;line-height:34.62px;color:#5f87b5;font-weight:normal;transform:scaleX(0.7396)">Standard Open API</div>
<div class="t" style="left:647.93px;top:723.02px;font-size:36.76px;line-height:36.76px;color:#5f87b5;font-weight:normal;transform:scaleX(0.8245)">Information Retrieval</div>
<div class="t" style="left:598.60px;top:818.63px;font-size:37.06px;line-height:37.06px;color:#5f87b5;font-weight:normal;transform:scaleX(0.8089)">Transportation Reservations</div>
<div class="t" style="left:1190.58px;top:235.79px;font-size:34.68px;line-height:34.68px;color:#5f87b5;font-weight:normal;transform:scaleX(0.7581)">Private Companies</div>
<div class="t" style="left:1185.98px;top:502.72px;font-size:32.93px;line-height:32.93px;color:#5f87b5;font-weight:normal;transform:scaleX(0.8085)">Local Governments</div>
<div class="t" style="left:1173.70px;top:811.03px;font-size:33.81px;line-height:33.81px;color:#5f87b5;font-weight:normal;transform:scaleX(0.7909)">Transport Companies</div>
<div class="t" style="left:1704.27px;top:374.13px;font-size:43.60px;line-height:43.60px;color:#fff;font-weight:bold;transform:scaleX(0.7280)">Citizens</div>
</body></html>
